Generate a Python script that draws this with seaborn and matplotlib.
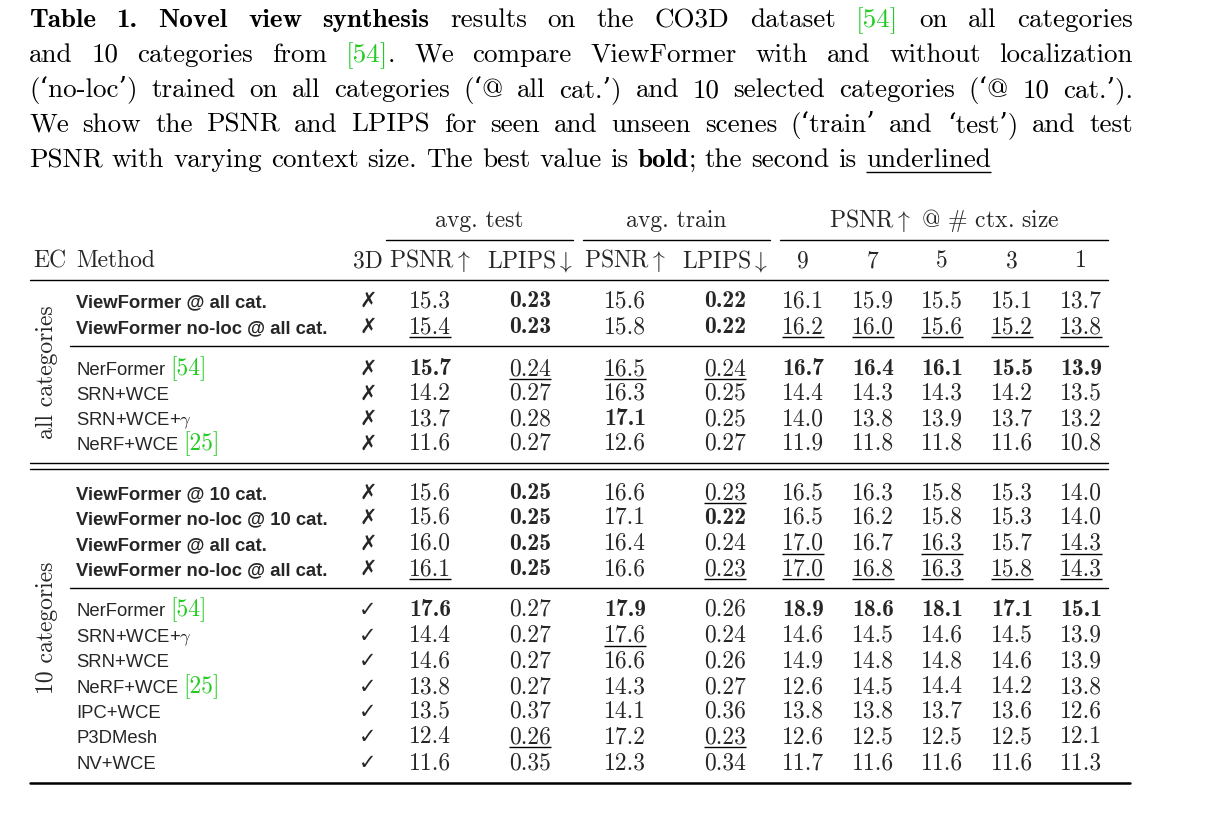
import matplotlib
matplotlib.use("Agg")
import matplotlib.pyplot as plt
import seaborn as sns

sns.set_theme(style="white")
SERIF = ['cmr10', 'DejaVu Serif']
SERIFB = ['cmb10', 'DejaVu Serif']
SANS = ['Liberation Sans', 'DejaVu Sans']
plt.rcParams['font.family'] = SERIF
plt.rcParams['mathtext.fontset'] = 'cm'
plt.rcParams['axes.unicode_minus'] = False

GREEN = '#22cc22'

# ---------------- data ----------------
col_headers = ["3D", "PSNR$\\uparrow$", "LPIPS$\\downarrow$", "PSNR$\\uparrow$", "LPIPS$\\downarrow$",
               "9", "7", "5", "3", "1"]
group_labels = ["all categories", "10 categories"]

methods_all = ["ViewFormer @ all cat.", "ViewFormer no-loc @ all cat.", "NerFormer", "SRN+WCE",
               "SRN+WCE+$\\gamma$", "NeRF+WCE"]
cites_all = ["", "", "[54]", "", "", "[25]"]
bold_name_all = [True, True, False, False, False, False]
is3d_all = ["✗"] * 6
values_all = [
    ["15.3", "0.23", "15.6", "0.22", "16.1", "15.9", "15.5", "15.1", "13.7"],
    ["15.4", "0.23", "15.8", "0.22", "16.2", "16.0", "15.6", "15.2", "13.8"],
    ["15.7", "0.24", "16.5", "0.24", "16.7", "16.4", "16.1", "15.5", "13.9"],
    ["14.2", "0.27", "16.3", "0.25", "14.4", "14.3", "14.3", "14.2", "13.5"],
    ["13.7", "0.28", "17.1", "0.25", "14.0", "13.8", "13.9", "13.7", "13.2"],
    ["11.6", "0.27", "12.6", "0.27", "11.9", "11.8", "11.8", "11.6", "10.8"],
]
styles_all = [
    "-b-b-----",
    "ub-buuuuu",
    "buuubbbbb",
    "---------",
    "--b------",
    "---------",
]
methods_10 = ["ViewFormer @ 10 cat.", "ViewFormer no-loc @ 10 cat.", "ViewFormer @ all cat.",
              "ViewFormer no-loc @ all cat.", "NerFormer", "SRN+WCE+$\\gamma$", "SRN+WCE",
              "NeRF+WCE", "IPC+WCE", "P3DMesh", "NV+WCE"]
cites_10 = ["", "", "", "", "[54]", "", "", "[25]", "", "", ""]
bold_name_10 = [True, True, True, True, False, False, False, False, False, False, False]
is3d_10 = ["✗"] * 4 + ["✓"] * 7
values_10 = [
    ["15.6", "0.25", "16.6", "0.23", "16.5", "16.3", "15.8", "15.3", "14.0"],
    ["15.6", "0.25", "17.1", "0.22", "16.5", "16.2", "15.8", "15.3", "14.0"],
    ["16.0", "0.25", "16.4", "0.24", "17.0", "16.7", "16.3", "15.7", "14.3"],
    ["16.1", "0.25", "16.6", "0.23", "17.0", "16.8", "16.3", "15.8", "14.3"],
    ["17.6", "0.27", "17.9", "0.26", "18.9", "18.6", "18.1", "17.1", "15.1"],
    ["14.4", "0.27", "17.6", "0.24", "14.6", "14.5", "14.6", "14.5", "13.9"],
    ["14.6", "0.27", "16.6", "0.26", "14.9", "14.8", "14.8", "14.6", "13.9"],
    ["13.8", "0.27", "14.3", "0.27", "12.6", "14.5", "14.4", "14.2", "13.8"],
    ["13.5", "0.37", "14.1", "0.36", "13.8", "13.8", "13.7", "13.6", "12.6"],
    ["12.4", "0.26", "17.2", "0.23", "12.6", "12.5", "12.5", "12.5", "12.1"],
    ["11.6", "0.35", "12.3", "0.34", "11.7", "11.6", "11.6", "11.6", "11.3"],
]
styles_10 = [
    "-b-u-----",
    "-b-b-----",
    "-b--u-u-u",
    "ub-uuuuuu",
    "b-b-bbbbb",
    "--u------",
    "---------",
    "---------",
    "---------",
    "-u-u-----",
    "---------",
]

caption_lines = [
    [("Table 1.", 'b'), (" ", ''), ("Novel view synthesis", 'b'), (" results on the CO3D dataset ", ''), ("[54]", 'g'),
     (" on all categories", '')],
    [("and 10 categories from ", ''), ("[54]", 'g'),
     (". We compare ViewFormer with and without localization", '')],
    [("(‘no-loc’) trained on all categories (‘@ all cat.’) and 10 selected categories (‘@ 10 cat.’).", '')],
    [("We show the PSNR and LPIPS for seen and unseen scenes (‘train’ and ‘test’) and test", '')],
    [("PSNR with varying context size. The best value is ", ''), ("bold", 'b'), ("; the second is ", ''),
     ("underlined", 'u')],
]

# ---------------- drawing ----------------
W, H = 1231, 825
fig = plt.figure(figsize=(W / 100, H / 100), dpi=100)
ax = fig.add_axes([0, 0, 1, 1])
ax.set_xlim(0, W)
ax.set_ylim(H, 0)
ax.axis('off')
fig.canvas.draw()
R = fig.canvas.get_renderer()


def width_of(t):
    return t.get_window_extent(R).width


def underline(x0, x1, y):
    ax.plot([x0, x1], [y, y], color='black', lw=1.0, solid_capstyle='butt')


def measure(txt, size, fam):
    if txt == "":
        return 0.0
    t = ax.text(0, 0, txt, fontsize=size, family=fam)
    w = width_of(t)
    t.remove()
    return w


def justified(x, y, parts, size, target, justify):
    # tokens: (text, style) words and ('SP', None) spaces
    toks = []
    for txt, st in parts:
        pieces = txt.split(' ')
        for k, p in enumerate(pieces):
            if k > 0:
                toks.append((' ', 'SP'))
            if p:
                toks.append((p, st))
    spw = measure("x x", size, SERIF) - measure("xx", size, SERIF)
    ws = []
    for p, st in toks:
        if st == 'SP':
            ws.append(spw)
        else:
            ws.append(measure(p, size, SERIFB if st == 'b' else SERIF))
    nsp = sum(1 for _, st in toks if st == 'SP')
    extra = (target - x - sum(ws)) / nsp if (justify and nsp) else 0.0
    for (p, st), w in zip(toks, ws):
        if st == 'SP':
            x += w + extra
            continue
        fam = SERIFB if st == 'b' else SERIF
        col = GREEN if st == 'g' else 'black'
        ax.text(x, y, p, fontsize=size, family=fam, color=col, va='baseline', ha='left')
        if st == 'u':
            underline(x, x + w, y + 5)
        x += w


# caption
CAP_X, CAP_RIGHT = 29, 1133
for i, line in enumerate(caption_lines):
    y = 27 + i * 35
    justified(CAP_X, y, line, 19.5, CAP_RIGHT, i < len(caption_lines) - 1)

# headers
FS = 17
hdr_y = 227
spans = [("avg. test", 386, 573), ("avg. train", 583, 770), ("PSNR$\\uparrow$ @ # ctx. size", 780, 1108)]
for txt, a, b in spans:
    ax.text((a + b) / 2, hdr_y, txt, fontsize=FS, ha='center', va='baseline', family=SERIF)
    ax.plot([a, b], [240, 240], color='black', lw=1.0)

col_x = [368, 430, 530, 625, 725, 803, 873, 942, 1012, 1081]
h2_y = 267
ax.text(33, h2_y, "EC", fontsize=FS, va='baseline', family=SERIF)
ax.text(76, h2_y, "Method", fontsize=FS, va='baseline', family=SERIF)
for cx, h in zip(col_x, col_headers):
    ax.text(cx, h2_y, h, fontsize=FS, ha='center', va='baseline', family=SERIF)

ax.plot([30, 1108], [280, 280], color='black', lw=1.0)


def draw_rows(ys, methods, cites, boldn, is3d, values, styles):
    for y, m, c, bn, d, vals, sty in zip(ys, methods, cites, boldn, is3d, values, styles):
        yb = y + 7
        t = ax.text(76, yb, m, fontsize=13.3, family=SANS, weight='bold' if bn else 'normal',
                    va='baseline')
        if c:
            x = 76 + width_of(t) + 5
            ax.text(x, yb, c, fontsize=FS, family=SERIF, color=GREEN, va='baseline')
        ax.text(col_x[0], yb, d, fontsize=15, family=['DejaVu Sans'], weight='bold',
                ha='center', va='baseline')
        for cx, v, s in zip(col_x[1:], vals, sty):
            fam = SERIFB if s == 'b' else SERIF
            tt = ax.text(cx, yb, v, fontsize=FS, family=fam, ha='center', va='baseline')
            if s == 'u':
                w = width_of(tt)
                underline(cx - w / 2, cx + w / 2, yb + 4)


ys_all = [300, 326, 368, 393, 418, 443]
ys_10 = [492, 517, 543, 568, 609, 635, 660, 686, 711, 736, 762]
draw_rows(ys_all, methods_all, cites_all, bold_name_all, is3d_all, values_all, styles_all)
draw_rows(ys_10, methods_10, cites_10, bold_name_10, is3d_10, values_10, styles_10)

ax.plot([70, 1108], [346, 346], color='black', lw=1.0)
ax.plot([30, 1108], [463, 463], color='black', lw=1.0)
ax.plot([30, 1108], [469, 469], color='black', lw=1.0)
ax.plot([70, 1108], [588, 588], color='black', lw=1.0)
ax.plot([30, 1130], [783, 783], color='black', lw=1.8)

ax.text(47, 372, group_labels[0], fontsize=FS, rotation=90, ha='center', va='center', family=SERIF)
ax.text(47, 628, group_labels[1], fontsize=FS, rotation=90, ha='center', va='center', family=SERIF)

fig.savefig("out.png", dpi=100)
